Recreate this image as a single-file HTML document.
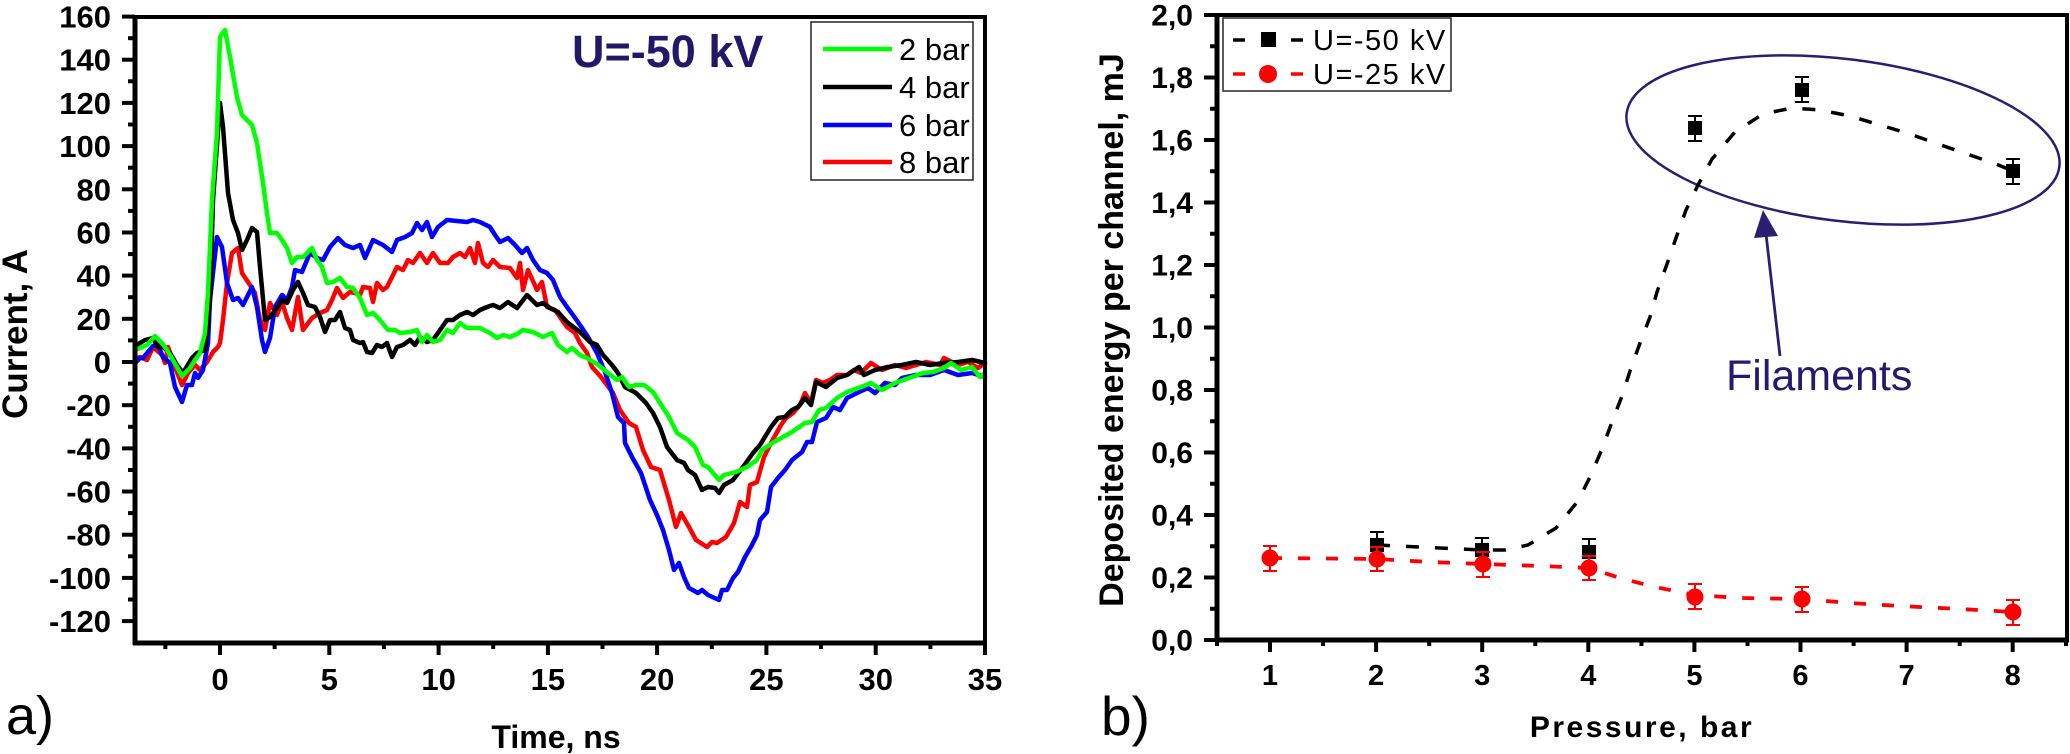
<!DOCTYPE html>
<html>
<head>
<meta charset="utf-8">
<style>
html,body{margin:0;padding:0;background:#fff;}
svg{display:block;}
text{font-family:"Liberation Sans",Arial,sans-serif;}
</style>
</head>
<body>
<svg width="2070" height="754" viewBox="0 0 2070 754" xmlns="http://www.w3.org/2000/svg">
<rect width="2070" height="754" fill="#fff"/>

<!-- ================= LEFT PLOT ================= -->
<g fill="none" stroke-linejoin="round" stroke-linecap="round" stroke-width="4.5">
<!-- 8 bar red -->
<polyline stroke="#ff0000" points="135,359 140,357 147,360 153,347 162,355 165,363 168,347 175,367 182,385 188,373 195,365 200,370 207,362 213,352 218,347 220,343 223,320 227,283 232,253 238,248 242,273 248,282 255,293 260,320 265,330 270,303 277,315 282,302 287,318 292,330 298,297 303,330 312,318 320,313 327,310 332,300 337,288 343,298 350,292 355,293 360,295 363,287 370,288 373,302 377,283 383,290 387,287 392,277 397,267 403,270 408,260 413,263 420,253 427,263 433,253 440,263 448,263 453,257 460,253 465,257 470,248 475,263 478,243 483,263 488,267 493,260 500,267 510,268 517,278 520,263 523,290 528,270 537,290 542,282 547,307 555,310 562,320 567,327 575,333 580,343 587,353 592,367 601,377 613,393 620,410 629,423 636,427 643,450 651,467 660,470 669,500 676,527 681,513 689,527 696,540 707,547 712,542 717,543 726,537 734,523 740,502 747,507 750,485 757,482 764,457 771,443 781,425 786,418 793,413 800,405 805,393 811,403 816,380 823,383 830,380 837,375 847,375 854,370 861,373 871,363 882,370 895,365 906,368 916,365 926,362 940,365 944,358 958,365 968,362 978,368 985,363"/>
<!-- 6 bar blue -->
<polyline stroke="#0000ff" points="135,363 140,358 143,358 153,346 158,345 163,357 170,363 175,387 182,402 187,385 192,385 195,373 198,378 203,370 208,343 210,300 217,237 222,247 227,283 233,300 238,298 243,305 252,287 257,307 262,340 265,352 270,338 275,307 282,295 287,300 292,287 295,270 302,272 307,260 310,253 317,258 323,260 330,247 338,238 345,245 353,248 360,245 365,258 373,240 383,245 392,252 397,240 405,237 412,233 417,223 422,230 427,222 432,237 438,227 447,220 467,222 473,220 480,222 490,227 495,235 500,242 508,238 515,245 522,253 527,248 533,260 540,270 547,273 553,280 560,297 567,307 573,315 580,325 588,337 597,353 605,372 612,393 618,417 624,423 625,443 632,457 641,473 650,500 657,515 663,530 669,550 674,570 679,563 684,577 689,588 698,593 702,590 708,595 719,600 722,590 727,590 733,578 738,572 745,557 752,545 757,535 760,520 767,512 771,487 778,478 785,470 792,460 802,452 807,442 812,442 817,422 826,418 833,407 840,410 847,398 857,393 868,388 875,393 885,383 895,385 902,378 916,375 930,375 944,370 958,375 972,373 985,377"/>
<!-- 4 bar black -->
<polyline stroke="#000000" points="135,346 140,343 145,340 153,338 158,347 163,347 170,353 177,365 183,373 192,358 197,353 205,350 210,300 213,200 220,103 223,127 228,193 233,220 238,233 242,250 247,240 252,228 257,232 260,267 265,320 270,317 277,308 282,300 287,303 293,290 298,282 303,293 308,305 315,307 320,317 325,332 330,320 335,320 340,312 345,328 350,330 353,340 360,343 363,342 367,352 372,353 377,345 382,347 387,343 392,357 397,347 403,345 410,340 415,345 420,337 427,342 433,340 440,330 447,320 453,320 460,315 467,312 473,315 480,310 487,307 493,305 500,308 508,302 517,308 527,295 537,305 543,303 550,308 558,312 567,322 580,332 590,342 597,345 603,355 612,365 618,373 625,387 636,393 646,403 653,413 660,427 667,447 677,460 684,463 688,470 695,475 702,490 708,487 715,488 719,493 724,485 733,480 743,467 753,453 760,445 771,427 778,418 785,417 792,410 798,407 805,398 811,405 816,382 826,387 837,378 847,375 859,367 864,375 875,370 888,367 902,365 916,362 930,365 944,363 958,362 972,360 985,363"/>
<!-- 2 bar green -->
<polyline stroke="#00ff00" points="135,350 140,348 147,345 155,336 162,343 167,350 173,360 182,376 190,368 195,360 200,353 205,333 208,293 212,200 217,133 220,37 225,30 230,57 237,97 242,115 252,125 257,143 263,183 267,213 270,233 277,233 282,240 287,248 292,263 297,257 303,257 312,248 317,260 322,267 327,283 333,282 340,278 347,287 353,288 360,298 367,315 373,313 380,320 388,330 395,330 400,333 410,332 417,330 422,342 427,335 433,342 440,340 447,330 453,333 460,323 467,328 480,328 490,333 497,338 503,335 510,337 517,334 523,330 533,332 543,337 552,333 558,345 567,352 572,348 580,355 587,358 597,364 608,373 617,380 622,377 629,387 636,385 644,385 653,392 660,403 669,417 677,433 688,440 695,447 703,465 708,467 719,480 724,475 736,472 747,467 757,460 762,450 774,442 792,432 805,423 812,422 819,410 826,408 837,398 847,392 861,387 871,383 882,390 895,383 909,378 923,373 933,372 944,368 951,363 961,370 972,367 980,377 985,373"/>
</g>

<!-- left frame -->
<g stroke="#000" fill="none">
<line x1="135" y1="15" x2="135" y2="645" stroke-width="5"/>
<line x1="133" y1="643" x2="987" y2="643" stroke-width="5"/>
<line x1="133" y1="17" x2="987" y2="17" stroke-width="4"/>
<line x1="985" y1="15" x2="985" y2="645" stroke-width="4"/>
</g>
<!-- left y ticks -->
<g stroke="#000" stroke-width="4">
<line x1="122" y1="16.6" x2="135" y2="16.6"/>
<line x1="122" y1="59.7" x2="135" y2="59.7"/>
<line x1="122" y1="102.9" x2="135" y2="102.9"/>
<line x1="122" y1="146.1" x2="135" y2="146.1"/>
<line x1="122" y1="189.3" x2="135" y2="189.3"/>
<line x1="122" y1="232.5" x2="135" y2="232.5"/>
<line x1="122" y1="275.6" x2="135" y2="275.6"/>
<line x1="122" y1="318.8" x2="135" y2="318.8"/>
<line x1="122" y1="362" x2="135" y2="362"/>
<line x1="122" y1="405.2" x2="135" y2="405.2"/>
<line x1="122" y1="448.4" x2="135" y2="448.4"/>
<line x1="122" y1="491.5" x2="135" y2="491.5"/>
<line x1="122" y1="534.7" x2="135" y2="534.7"/>
<line x1="122" y1="577.9" x2="135" y2="577.9"/>
<line x1="122" y1="621.1" x2="135" y2="621.1"/>
<line x1="128" y1="38.2" x2="135" y2="38.2"/>
<line x1="128" y1="81.3" x2="135" y2="81.3"/>
<line x1="128" y1="124.5" x2="135" y2="124.5"/>
<line x1="128" y1="167.7" x2="135" y2="167.7"/>
<line x1="128" y1="210.9" x2="135" y2="210.9"/>
<line x1="128" y1="254.1" x2="135" y2="254.1"/>
<line x1="128" y1="297.2" x2="135" y2="297.2"/>
<line x1="128" y1="340.4" x2="135" y2="340.4"/>
<line x1="128" y1="383.6" x2="135" y2="383.6"/>
<line x1="128" y1="426.8" x2="135" y2="426.8"/>
<line x1="128" y1="470" x2="135" y2="470"/>
<line x1="128" y1="513.1" x2="135" y2="513.1"/>
<line x1="128" y1="556.3" x2="135" y2="556.3"/>
<line x1="128" y1="599.5" x2="135" y2="599.5"/>
<!-- x ticks -->
<line x1="220" y1="643" x2="220" y2="655"/>
<line x1="329.3" y1="643" x2="329.3" y2="655"/>
<line x1="438.6" y1="643" x2="438.6" y2="655"/>
<line x1="547.9" y1="643" x2="547.9" y2="655"/>
<line x1="657.1" y1="643" x2="657.1" y2="655"/>
<line x1="766.4" y1="643" x2="766.4" y2="655"/>
<line x1="875.7" y1="643" x2="875.7" y2="655"/>
<line x1="985" y1="643" x2="985" y2="655"/>
<line x1="165.4" y1="643" x2="165.4" y2="649"/>
<line x1="274.6" y1="643" x2="274.6" y2="649"/>
<line x1="383.9" y1="643" x2="383.9" y2="649"/>
<line x1="493.2" y1="643" x2="493.2" y2="649"/>
<line x1="602.5" y1="643" x2="602.5" y2="649"/>
<line x1="711.8" y1="643" x2="711.8" y2="649"/>
<line x1="821" y1="643" x2="821" y2="649"/>
<line x1="930.4" y1="643" x2="930.4" y2="649"/>
</g>
<!-- left tick labels -->
<g font-size="31" font-weight="bold" text-anchor="end" fill="#000">
<text x="111" y="27.6">160</text>
<text x="111" y="70.7">140</text>
<text x="111" y="113.9">120</text>
<text x="111" y="157.1">100</text>
<text x="111" y="200.3">80</text>
<text x="111" y="243.5">60</text>
<text x="111" y="286.6">40</text>
<text x="111" y="329.8">20</text>
<text x="111" y="373">0</text>
<text x="111" y="416.2">-20</text>
<text x="111" y="459.4">-40</text>
<text x="111" y="502.5">-60</text>
<text x="111" y="545.7">-80</text>
<text x="111" y="588.9">-100</text>
<text x="111" y="632.1">-120</text>
</g>
<g font-size="31" font-weight="bold" text-anchor="middle" fill="#000">
<text x="220" y="690">0</text>
<text x="329.3" y="690">5</text>
<text x="438.6" y="690">10</text>
<text x="547.9" y="690">15</text>
<text x="657.1" y="690">20</text>
<text x="766.4" y="690">25</text>
<text x="875.7" y="690">30</text>
<text x="985" y="690">35</text>
</g>
<text x="556" y="748" font-size="32" font-weight="bold" text-anchor="middle">Time, ns</text>
<text transform="translate(27,334) rotate(-90)" font-size="35" font-weight="bold" text-anchor="middle">Current, A</text>
<text x="6" y="734" font-size="54">a)</text>
<text x="572" y="67" font-size="45" font-weight="bold" fill="#22186a">U=-50 kV</text>

<!-- left legend -->
<rect x="811" y="22" width="162" height="158" fill="#fff" stroke="#333" stroke-width="1.6"/>
<g stroke-width="4.5">
<line x1="823" y1="49" x2="892" y2="49" stroke="#00ff00"/>
<line x1="823" y1="87" x2="892" y2="87" stroke="#000"/>
<line x1="823" y1="125" x2="892" y2="125" stroke="#0000ff"/>
<line x1="823" y1="162" x2="892" y2="162" stroke="#ff0000"/>
</g>
<g font-size="31" fill="#000">
<text x="899" y="60">2 bar</text>
<text x="899" y="98">4 bar</text>
<text x="899" y="136">6 bar</text>
<text x="899" y="173">8 bar</text>
</g>

<!-- ================= RIGHT PLOT ================= -->
<!-- annotation -->
<ellipse cx="1843" cy="140" rx="218" ry="81" transform="rotate(7 1843 140)" fill="none" stroke="#2b1d72" stroke-width="2.5"/>
<line x1="1780" y1="356" x2="1766" y2="234" stroke="#2b1d72" stroke-width="2.8"/>
<polygon points="1763,210 1778,236 1754,238" fill="#2b1d72"/>
<text x="1726" y="390" font-size="43" fill="#251a6e">Filaments</text>

<!-- dashed curves -->
<polyline fill="none" stroke="#000" stroke-width="3.5" stroke-dasharray="13 16" points="1377,545 1420,547 1460,549 1482,550 1505,550 1528,545 1556,528 1578,501 1591,475 1602,449 1612,422 1622,396 1631,368 1640,343 1650,317 1657,292 1667,264 1676,238 1686,210 1698,185 1712,159 1735,132 1763,114 1792,108 1820,110 1850,116 1880,125 1910,134 1938,144 1967,154 1996,164 2013,171"/>
<polyline fill="none" stroke="#ff0000" stroke-width="3.8" stroke-dasharray="12 16" points="1270,558 1377,559 1430,562 1483,564 1540,566 1589,568 1620,578 1655,587 1695,595 1740,598 1802,599 1850,603 1900,606 1960,609 2013,612"/>

<!-- black markers + error bars -->
<g stroke="#000" stroke-width="2" fill="none">
<path d="M1377,532V557M1370,532H1384M1370,557H1384"/>
<path d="M1482,538V563M1475,538H1489M1475,563H1489"/>
<path d="M1589,539V565M1582,539H1596M1582,565H1596"/>
<path d="M1695,116V141M1688,116H1702M1688,141H1702"/>
<path d="M1802,77V102M1795,77H1809M1795,102H1809"/>
<path d="M2013,159V184M2006,159H2020M2006,184H2020"/>
</g>
<g fill="#000">
<rect x="1370" y="538" width="14" height="14"/>
<rect x="1475" y="543" width="14" height="14"/>
<rect x="1582" y="545" width="14" height="14"/>
<rect x="1688" y="121" width="14" height="14"/>
<rect x="1795" y="83" width="14" height="14"/>
<rect x="2006" y="164" width="14" height="14"/>
</g>
<!-- red markers + error bars -->
<g fill="#ff0000">
<circle cx="1270" cy="558" r="8.5"/>
<circle cx="1377" cy="559" r="8.5"/>
<circle cx="1483" cy="564" r="8.5"/>
<circle cx="1589" cy="568" r="8.5"/>
<circle cx="1695" cy="597" r="8.5"/>
<circle cx="1802" cy="599" r="8.5"/>
<circle cx="2013" cy="612" r="8.5"/>
</g>
<g stroke="#ff0000" stroke-width="2" fill="none">
<path d="M1270,546V571M1263,546H1277M1263,571H1277"/>
<path d="M1377,547V571M1370,547H1384M1370,571H1384"/>
<path d="M1483,552V577M1476,552H1490M1476,577H1490"/>
<path d="M1589,556V580M1582,556H1596M1582,580H1596"/>
<path d="M1695,584V609M1688,584H1702M1688,609H1702"/>
<path d="M1802,587V612M1795,587H1809M1795,612H1809"/>
<path d="M2013,600V625M2006,600H2020M2006,625H2020"/>
</g>

<!-- right frame -->
<g stroke="#000" fill="none">
<line x1="1217" y1="13" x2="1217" y2="642" stroke-width="5"/>
<line x1="1215" y1="640" x2="2069" y2="640" stroke-width="5"/>
<line x1="1215" y1="15" x2="2069" y2="15" stroke-width="4"/>
<line x1="2067" y1="13" x2="2067" y2="642" stroke-width="4"/>
</g>
<g stroke="#000" stroke-width="4">
<line x1="1204" y1="640" x2="1217" y2="640"/>
<line x1="1204" y1="577.5" x2="1217" y2="577.5"/>
<line x1="1204" y1="515" x2="1217" y2="515"/>
<line x1="1204" y1="452.5" x2="1217" y2="452.5"/>
<line x1="1204" y1="390" x2="1217" y2="390"/>
<line x1="1204" y1="327.5" x2="1217" y2="327.5"/>
<line x1="1204" y1="265" x2="1217" y2="265"/>
<line x1="1204" y1="202.5" x2="1217" y2="202.5"/>
<line x1="1204" y1="140" x2="1217" y2="140"/>
<line x1="1204" y1="77.5" x2="1217" y2="77.5"/>
<line x1="1204" y1="15" x2="1217" y2="15"/>
<line x1="1210" y1="608.75" x2="1217" y2="608.75"/>
<line x1="1210" y1="546.25" x2="1217" y2="546.25"/>
<line x1="1210" y1="483.75" x2="1217" y2="483.75"/>
<line x1="1210" y1="421.25" x2="1217" y2="421.25"/>
<line x1="1210" y1="358.75" x2="1217" y2="358.75"/>
<line x1="1210" y1="296.25" x2="1217" y2="296.25"/>
<line x1="1210" y1="233.75" x2="1217" y2="233.75"/>
<line x1="1210" y1="171.25" x2="1217" y2="171.25"/>
<line x1="1210" y1="108.75" x2="1217" y2="108.75"/>
<line x1="1210" y1="46.25" x2="1217" y2="46.25"/>
<line x1="1270" y1="640" x2="1270" y2="652"/>
<line x1="1376.1" y1="640" x2="1376.1" y2="652"/>
<line x1="1482.2" y1="640" x2="1482.2" y2="652"/>
<line x1="1588.3" y1="640" x2="1588.3" y2="652"/>
<line x1="1694.4" y1="640" x2="1694.4" y2="652"/>
<line x1="1800.5" y1="640" x2="1800.5" y2="652"/>
<line x1="1906.6" y1="640" x2="1906.6" y2="652"/>
<line x1="2012.7" y1="640" x2="2012.7" y2="652"/>
<line x1="1217" y1="640" x2="1217" y2="646"/>
<line x1="1323" y1="640" x2="1323" y2="646"/>
<line x1="1429.2" y1="640" x2="1429.2" y2="646"/>
<line x1="1535.3" y1="640" x2="1535.3" y2="646"/>
<line x1="1641.4" y1="640" x2="1641.4" y2="646"/>
<line x1="1747.5" y1="640" x2="1747.5" y2="646"/>
<line x1="1853.6" y1="640" x2="1853.6" y2="646"/>
<line x1="1959.7" y1="640" x2="1959.7" y2="646"/>
<line x1="2066" y1="640" x2="2066" y2="646"/>
</g>
<g font-size="30" font-weight="bold" text-anchor="end" fill="#000">
<text x="1193" y="650.5">0,0</text>
<text x="1193" y="588">0,2</text>
<text x="1193" y="525.5">0,4</text>
<text x="1193" y="463">0,6</text>
<text x="1193" y="400.5">0,8</text>
<text x="1193" y="338">1,0</text>
<text x="1193" y="275.5">1,2</text>
<text x="1193" y="213">1,4</text>
<text x="1193" y="150.5">1,6</text>
<text x="1193" y="88">1,8</text>
<text x="1193" y="25.5">2,0</text>
</g>
<g font-size="29" font-weight="bold" text-anchor="middle" fill="#000">
<text x="1270" y="685">1</text>
<text x="1376.1" y="685">2</text>
<text x="1482.2" y="685">3</text>
<text x="1588.3" y="685">4</text>
<text x="1694.4" y="685">5</text>
<text x="1800.5" y="685">6</text>
<text x="1906.6" y="685">7</text>
<text x="2012.7" y="685">8</text>
</g>
<text x="1642" y="737" font-size="30" font-weight="bold" text-anchor="middle" letter-spacing="2.5">Pressure, bar</text>
<text transform="translate(1123,330) rotate(-90)" font-size="34" font-weight="bold" text-anchor="middle">Deposited energy per channel, mJ</text>
<text x="1101" y="735" font-size="55">b)</text>

<!-- right legend -->
<rect x="1223" y="18" width="228" height="73" fill="#fff" stroke="#333" stroke-width="1.6"/>
<g stroke-width="3.5">
<line x1="1233" y1="40" x2="1245" y2="40" stroke="#000"/>
<line x1="1291" y1="40" x2="1303" y2="40" stroke="#000"/>
<line x1="1233" y1="74" x2="1245" y2="74" stroke="#ff0000"/>
<line x1="1291" y1="74" x2="1303" y2="74" stroke="#ff0000"/>
</g>
<rect x="1261" y="32" width="15" height="15" fill="#000"/>
<circle cx="1268" cy="74" r="9" fill="#ff0000"/>
<g font-size="29" fill="#000" letter-spacing="1.5">
<text x="1313" y="50">U=-50 kV</text>
<text x="1313" y="84">U=-25 kV</text>
</g>
</svg>
</body>
</html>
